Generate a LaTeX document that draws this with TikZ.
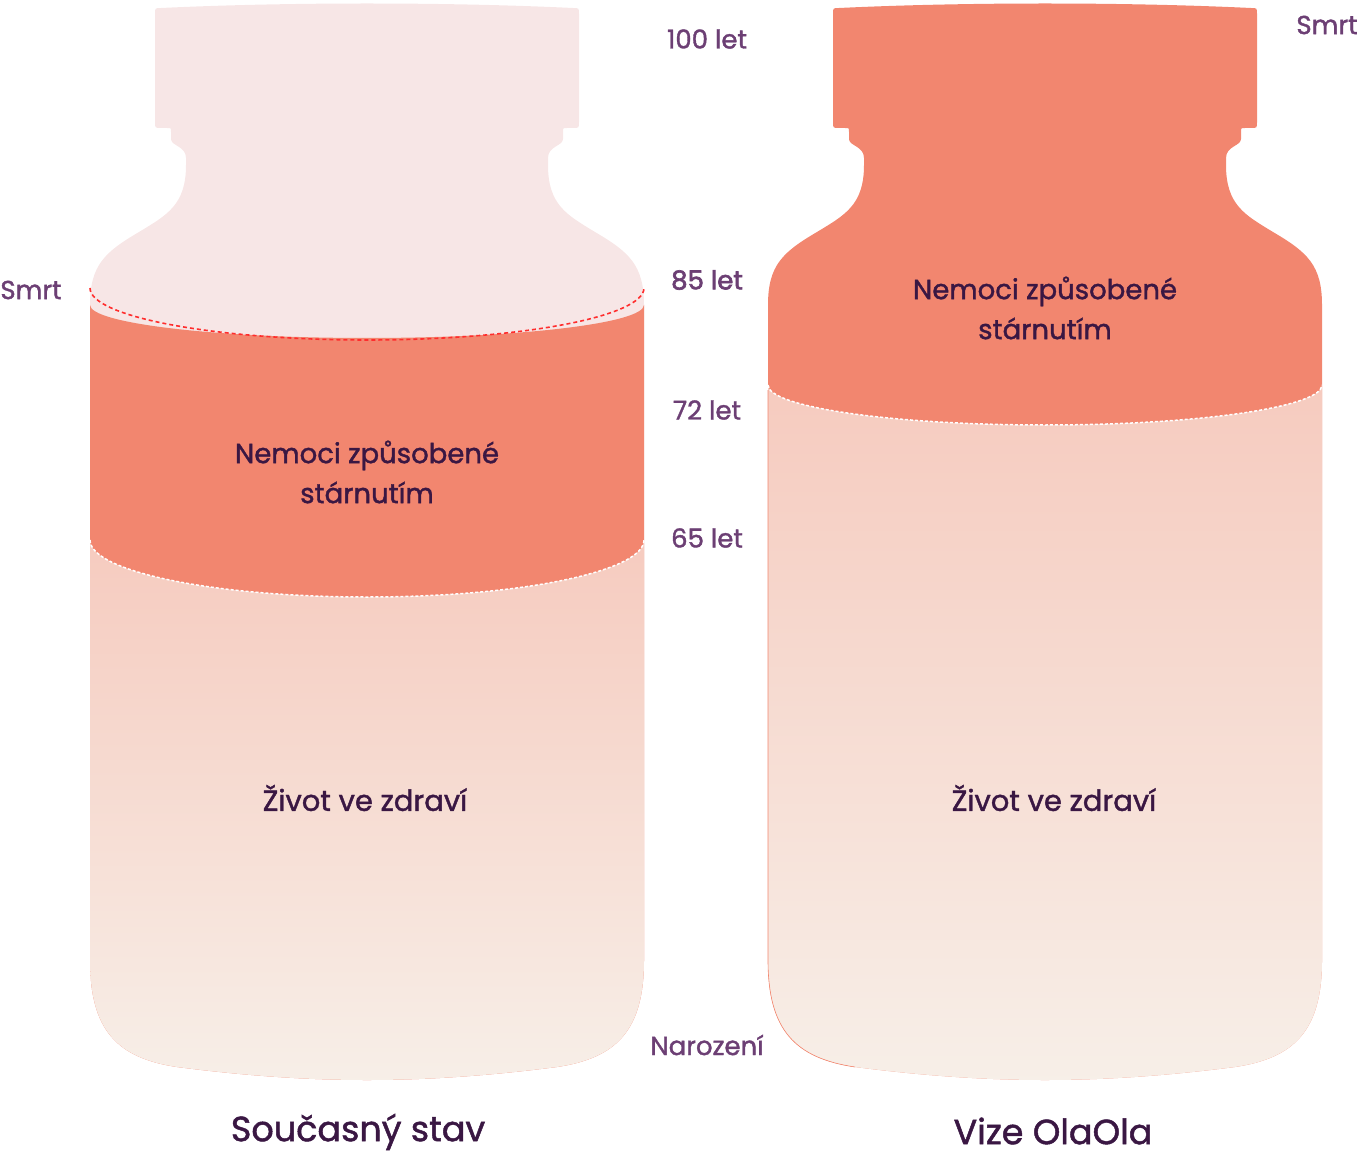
\documentclass[tikz,border=0pt]{standalone}
\usepackage{fontspec}
\setmainfont{Poppins}
\newfontfamily\medfont{Poppins}[FakeBold=1.4]
\newfontfamily\semifont{Poppins}[FakeBold=2.4]
\usetikzlibrary{positioning}
\definecolor{mysalmon}{HTML}{F2866F}
\definecolor{mypale}{HTML}{F7E6E6}
\definecolor{mygradtop}{HTML}{F6CBBF}
\definecolor{mygradbot}{HTML}{F7EFE8}
\definecolor{mylabel}{HTML}{6C3F74}
\definecolor{mytext}{HTML}{3A1743}
\definecolor{myred}{HTML}{FF2D2D}
% outline of one jar, centred on x = 0 (units are pixels)
\newcommand\jarOutline{
  (-206,8) .. controls (-80,2) and (80,2) .. (206,8)
  .. controls (212,8) .. (212,14) -- (212,122)
  .. controls (212,128) .. (206,128) -- (200,128)
  .. controls (196,128) .. (196,132) -- (196,139)
  .. controls (196,146) and (181,146) .. (181,158)
  -- (181,165) .. controls (181,205) and (200,215) .. (228,232)
  .. controls (262,252) and (277,265) .. (277,305)
  -- (277,960) .. controls (277,1030) and (250,1058) .. (190,1067)
  .. controls (120,1076) and (60,1080) .. (0,1080)
  .. controls (-60,1080) and (-120,1076) .. (-190,1067)
  .. controls (-250,1058) and (-277,1030) .. (-277,960)
  -- (-277,305) .. controls (-277,265) and (-262,252) .. (-228,232)
  .. controls (-200,215) and (-181,205) .. (-181,165)
  -- (-181,158) .. controls (-181,146) and (-196,146) .. (-196,139)
  -- (-196,132) .. controls (-196,128) .. (-200,128)
  -- (-206,128) .. controls (-212,128) .. (-212,122)
  -- (-212,14) .. controls (-212,8) .. (-206,8) -- cycle
}
% level line across the jar: #1 height at the sides, #2 sag in the middle
\newcommand\bowl[2]{
  (-277,#1) .. controls (-277,{#1+0.552*#2}) and (-153,{#1+#2}) .. (0,{#1+#2})
  .. controls (153,{#1+#2}) and (277,{#1+0.552*#2}) .. (277,#1)
}
\tikzset{
  agelabel/.style={text=mylabel,font=\medfont\fontsize{26}{30}\selectfont,inner sep=0},
  agelabel strong/.style={agelabel,font=\semifont\fontsize{26}{30}\selectfont},
  jartext/.style={text=mytext,font=\medfont\fontsize{27.5}{40}\selectfont,align=center,inner sep=0},
  jartext big/.style={jartext,font=\medfont\fontsize{29}{40}\selectfont},
  jartitle/.style={text=mytext,font=\medfont\fontsize{35}{40}\selectfont,inner sep=0},
  level white/.style={white,line width=1.5,dash pattern=on 3 off 2},
  level red/.style={myred,line width=1.6,dash pattern=on 4 off 3}
}

\begin{document}
\begin{tikzpicture}[x=1pt,y=-1pt]
    \useasboundingbox (0,0) rectangle (1360,1158);

    % ------- current state -------
    \begin{scope}[shift={(367,0)}]
        \fill[mypale] \jarOutline;
        \begin{scope}
            \clip \jarOutline;
            \fill[mysalmon] (-290,305) -- \bowl{305}{33} -- (290,305) -- (290,1100) -- (-290,1100) -- cycle;
            \shade[top color=mygradtop,bottom color=mygradbot]
                (-290,540) -- \bowl{540}{57} -- (290,540) -- (290,1085) -- (-290,1085) -- cycle;
        \end{scope}
        \draw[level red] \bowl{288}{52};
        \draw[level white] \bowl{540}{57};
    \end{scope}

    % ------- vision -------
    \begin{scope}[shift={(1045,0)}]
        \fill[mysalmon] \jarOutline;
        \begin{scope}
            \clip \jarOutline;
            \shade[top color=mygradtop,bottom color=mygradbot]
                (-290,385) -- \bowl{385}{40} -- (290,385) -- (290,1085) -- (-290,1085) -- cycle;
        \end{scope}
        \draw[mysalmon,line width=0.6] (-277,390) -- (-277,960) .. controls (-277,1030) and (-250,1058) .. (-190,1067);
        \draw[level white] \bowl{385}{40};
    \end{scope}

    % ------- labels -------
    \foreach \age/\ypos/\sty in {100/39/agelabel, 85/280/agelabel strong, 72/410/agelabel, 65/538/agelabel} {
        \node[\sty] (age\age) at (707,\ypos) {\age{} let};
    }
    \node[agelabel] (birth) at (707,1045) {Narození};
    \node[agelabel] (death-l) at (31,290) {Smrt};
    \node[agelabel] (death-r) at (1327,25) {Smrt};

    \node[jartext] (ill-l) at (367,472) {Nemoci způsobené\\stárnutím};
    \node[jartext] (ill-r) at (1045,308) {Nemoci způsobené\\stárnutím};
    \node[jartext big] (health-l) at (365,798) {Život ve zdraví};
    \node[jartext big] (health-r) at (1054,798) {Život ve zdraví};

    \node[jartitle] (title-l) at (358,1132) {Současný stav};
    \node[jartitle] (title-r) at (1053,1131) {Vize OlaOla};
\end{tikzpicture}
\end{document}
